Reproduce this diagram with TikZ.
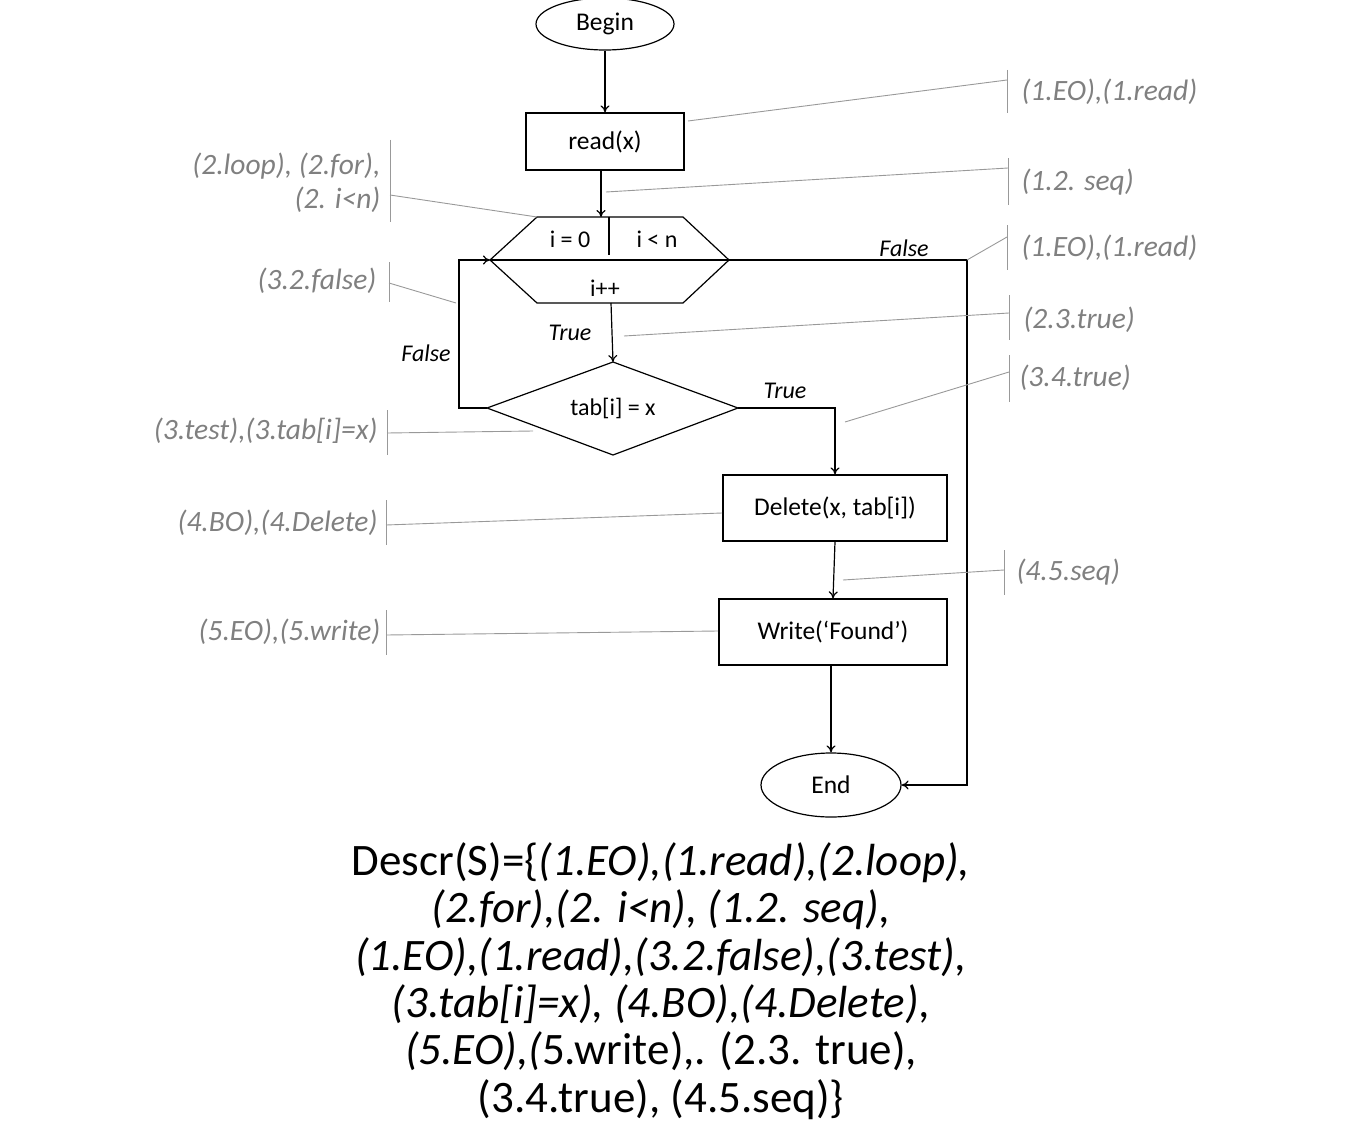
\documentclass[tikz,border=0pt]{standalone}
\usepackage{fontspec}
\setmainfont{Carlito}
\usetikzlibrary{shapes.geometric,arrows.meta}
\begin{document}
\begin{tikzpicture}[x=1pt,y=-1pt,
  box/.style={draw,line width=1.2pt,fill=white,font=\fontsize{25.5}{28}\selectfont},
  ln/.style={line width=1.2pt},
  arr/.style={ln,-{To[length=7pt,width=9pt]}},
  ann/.style={gray,font=\fontsize{29.5}{34}\selectfont\itshape},
  al/.style={gray!80,line width=0.9pt},
  lab/.style={font=\fontsize{24}{28}\selectfont\itshape}]
\useasboundingbox (0,0) rectangle (1349,1145);
% nodes
\node[box,ellipse,minimum width=138pt,minimum height=52pt,inner sep=0pt] (begin) at (605,24) {Begin};
\node[box,minimum width=158pt,minimum height=57pt] (read) at (605,141.5) {read(x)};
\node[box,minimum width=224pt,minimum height=66pt] (del) at (835,508) {Delete(x, tab[i])};
\node[box,minimum width=228pt,minimum height=66pt] (wr) at (833,632) {Write(‘Found’)};
\node[box,ellipse,minimum width=140pt,minimum height=64pt,inner sep=0pt] (end) at (831,785) {End};
% hexagon
\draw[ln] (537,217) -- (683,217) -- (729,260) -- (683,303) -- (537,303) -- (490,260) -- cycle;
\draw[ln] (609,217) -- (609,255);
\draw[ln] (490,260) -- (967,260);
\coordinate (hexL) at (490,260);
\coordinate (hexT) at (601,217);
\coordinate (hexB) at (611,303);
\node[font=\fontsize{24}{28}\selectfont] at (570,239) {i = 0};
\node[font=\fontsize{24}{28}\selectfont] at (657,239) {i < n};
\node[font=\fontsize{24}{28}\selectfont] at (605,288) {i++};
% diamond
\draw[ln] (613,362) coordinate (dT) -- (738,408) coordinate (dR) -- (613,455) -- (487,408) coordinate (dL) -- cycle;
\node[font=\fontsize{24}{28}\selectfont] at (613,408) {tab[i] = x};
% connectors
\draw[arr] (begin.south) -- (read.north);
\draw[arr] (read.south -| hexT) -- (hexT);
\draw[arr] (hexB) -- (dT);
\draw[arr] (dR) -- (835,408) -- (del.north);
\draw[arr] (del.south) -- (wr.north);
\draw[arr] (wr.south -| end.north) -- (end.north);
\draw[arr] (dL) -- (459,408) -- (459,260) -- (hexL);
\draw[arr] (967,260) -- (967,785) -- (end.east);
\node[lab] at (904,248) {False};
\node[lab] at (570,333) {True};
\node[lab] at (426,353) {False};
\node[lab] at (785,391) {True};
% annotations right
\draw[al] (1007,70) -- (1007,113); \draw[al] (688,121) -- (1007,80);
\node[ann,anchor=west] at (1018,92) {(1.EO),(1.read)};
\draw[al] (1008,158) -- (1008,205); \draw[al] (606,192) -- (1008,168);
\node[ann,anchor=west] at (1018,182) {(1.2. seq)};
\draw[al] (1007,225) -- (1007,270); \draw[al] (967,260) -- (1007,237);
\node[ann,anchor=west] at (1018,248) {(1.EO),(1.read)};
\draw[al] (1009,295) -- (1009,340); \draw[al] (624,336) -- (1009,313);
\node[ann,anchor=west] at (1020,320) {(2.3.true)};
\draw[al] (1009,355) -- (1009,402); \draw[al] (845,422) -- (1009,372);
\node[ann,anchor=west] at (1016,378) {(3.4.true)};
\draw[al] (1004,550) -- (1004,595); \draw[al] (843,580) -- (1004,570);
\node[ann,anchor=west] at (1013,572) {(4.5.seq)};
% annotations left
\draw[al] (390,140) -- (390,222); \draw[al] (390,195) -- (537,217);
\node[ann,anchor=east,align=right] at (384,183) {(2.loop), (2.for),\\(2. i<n)};
\draw[al] (389,262) -- (389,302); \draw[al] (389,283) -- (456,303);
\node[ann,anchor=east] at (380,281) {(3.2.false)};
\draw[al] (387,410) -- (387,455); \draw[al] (387,433) -- (533,431);
\node[ann,anchor=east] at (381,431) {(3.test),(3.tab[i]=x)};
\draw[al] (386,500) -- (386,545); \draw[al] (386,525) -- (722,513);
\node[ann,anchor=east] at (381,523) {(4.BO),(4.Delete)};
\draw[al] (386,610) -- (386,655); \draw[al] (386,635) -- (718,631);
\node[ann,anchor=east] at (384,632) {(5.EO),(5.write)};
% description
\node[font=\fontsize{45}{47.4}\selectfont,align=center] (descr) at (661,981) {%
Descr(S)=\{\textit{(1.EO),(1.read),(2.loop),}\\
\textit{(2.for),(2. i<n), (1.2. seq),}\\
\textit{(1.EO),(1.read),(3.2.false),(3.test),}\\
\textit{(3.tab[i]=x), (4.BO),(4.Delete),}\\
\textit{(5.EO),(}5.write),. (2.3. true),\\
(3.4.true), (4.5.seq)\}};
\end{tikzpicture}
\end{document}
